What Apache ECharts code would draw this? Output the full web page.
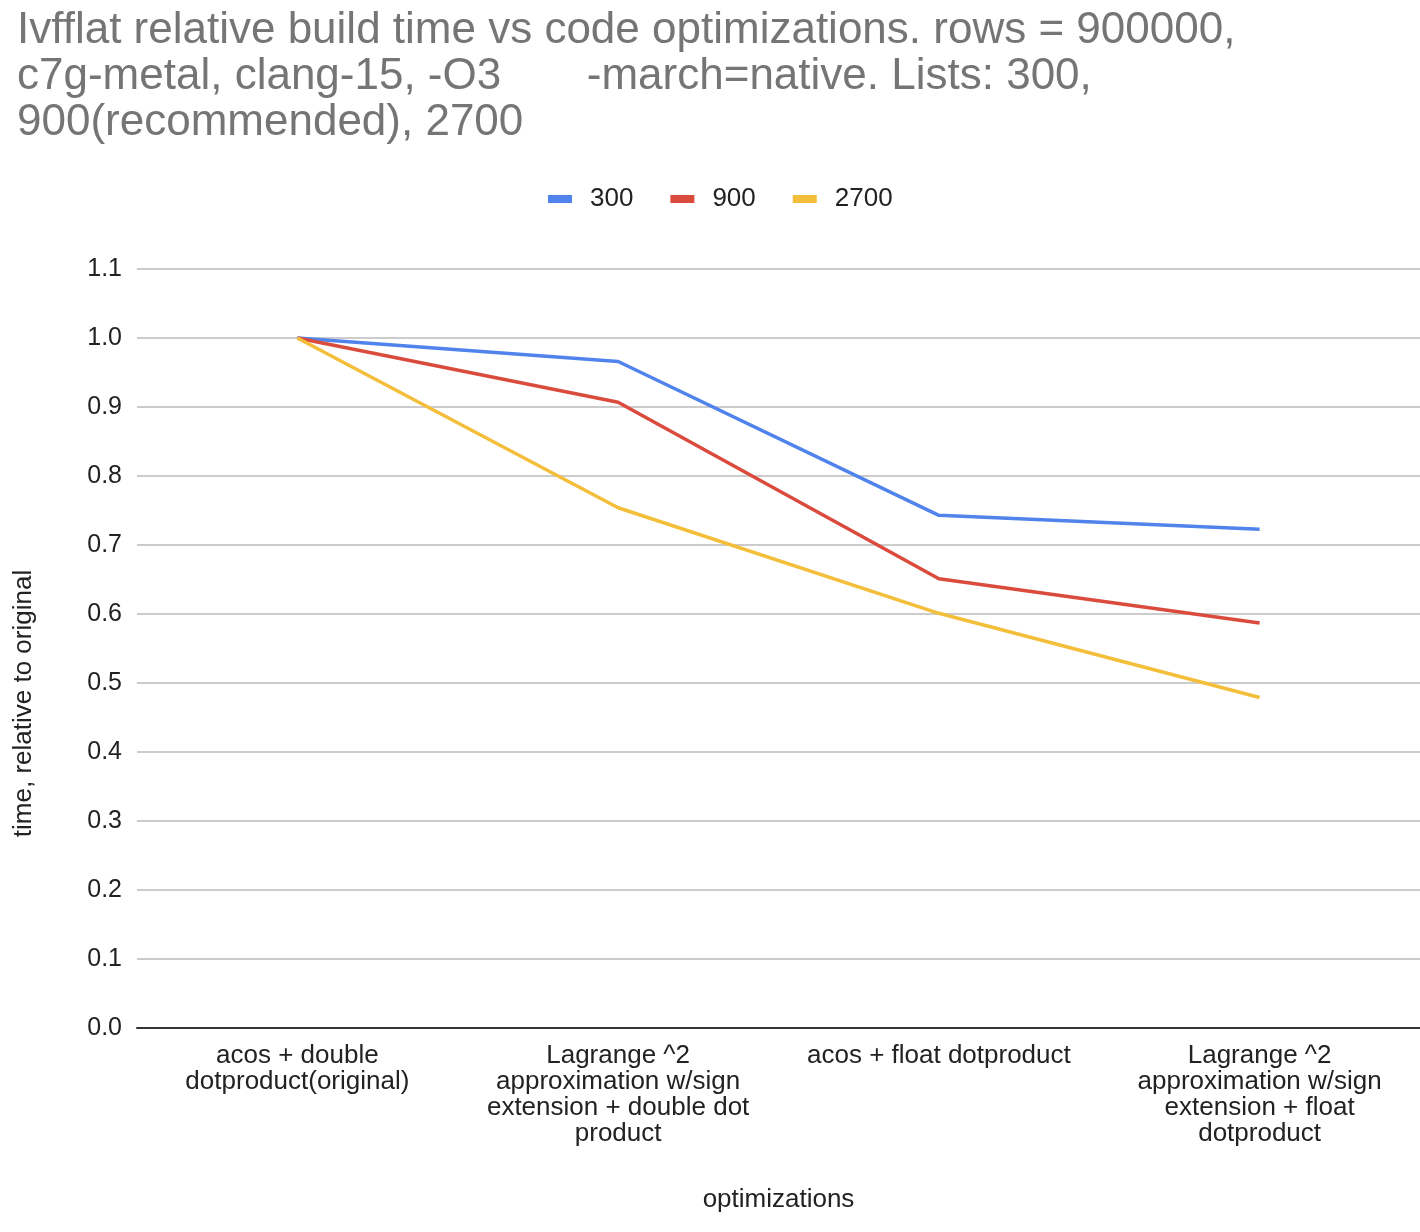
<!DOCTYPE html>
<html><head><meta charset="utf-8">
<script src="https://cdn.jsdelivr.net/npm/echarts@6/dist/echarts.min.js"></script>
<style>html,body{margin:0;padding:0;background:#fff}#c{width:1420px;height:1232px}</style>
</head><body><div id="c"></div>
<script>
const titleText = 'Ivfflat relative build time vs code optimizations. rows = 900000,\nc7g-metal, clang-15, -O3       -march=native. Lists: 300,\n900(recommended), 2700';
const categories = [
  'acos + double\ndotproduct(original)',
  'Lagrange ^2\napproximation w/sign\nextension + double dot\nproduct',
  'acos + float dotproduct',
  'Lagrange ^2\napproximation w/sign\nextension + float\ndotproduct'
];
const seriesNames = ['300', '900', '2700'];
const s300 = [1.0, 0.966, 0.743, 0.723];
const s900 = [1.0, 0.907, 0.651, 0.587];
const s2700 = [1.0, 0.754, 0.601, 0.479];
const yTicks = {min: 0, max: 1.1, interval: 0.1};
const colors = ['#5084EC', '#DA4B3D', '#F3BE3A'];

const font = '"Liberation Sans", Arial, sans-serif';
const chart = echarts.init(document.getElementById('c'), null, {renderer: 'canvas'});
const data = [s300, s900, s2700];
chart.setOption({
  animation: false,
  color: colors,
  textStyle: {fontFamily: font},
  title: {
    text: titleText, left: 12, top: 3,
    textStyle: {fontFamily: font, fontSize: 44, fontWeight: 'normal', color: '#757575', lineHeight: 46}
  },
  legend: {
    data: seriesNames, top: 181, left: 543,
    itemWidth: 24, itemHeight: 8, itemGap: 37,
    icon: 'rect',
    textStyle: {fontFamily: font, fontSize: 26, color: '#222', padding: [0, 0, 0, 13]}
  },
  grid: {left: 137, right: 0, top: 269, bottom: 204, containLabel: false},
  xAxis: {
    type: 'category', data: categories, boundaryGap: true,
    name: 'optimizations', nameLocation: 'middle', nameGap: 159,
    nameTextStyle: {fontFamily: font, fontSize: 26, color: '#222'},
    axisLine: {lineStyle: {color: '#333', width: 2}},
    axisTick: {show: false},
    axisLabel: {interval: 0, fontFamily: font, fontSize: 26, color: '#222', lineHeight: 26, margin: 15, verticalAlign: 'top'}
  },
  yAxis: {
    type: 'value', min: yTicks.min, max: yTicks.max, interval: yTicks.interval,
    name: 'time, relative to original', nameLocation: 'middle', nameGap: 100,
    nameTextStyle: {fontFamily: font, fontSize: 26, color: '#222', padding: [0, 110, 0, 0]},
    axisLine: {show: false}, axisTick: {show: false},
    axisLabel: {fontFamily: font, fontSize: 25, color: '#222', margin: 15, formatter: v => v.toFixed(1)},
    splitLine: {lineStyle: {color: '#cccccc', width: 2}}
  },
  series: seriesNames.map((n, i) => ({
    name: n, type: 'line', data: data[i], symbol: 'none',
    lineStyle: {width: 3.5, color: colors[i]}, itemStyle: {color: colors[i]}
  }))
});
</script></body></html>
